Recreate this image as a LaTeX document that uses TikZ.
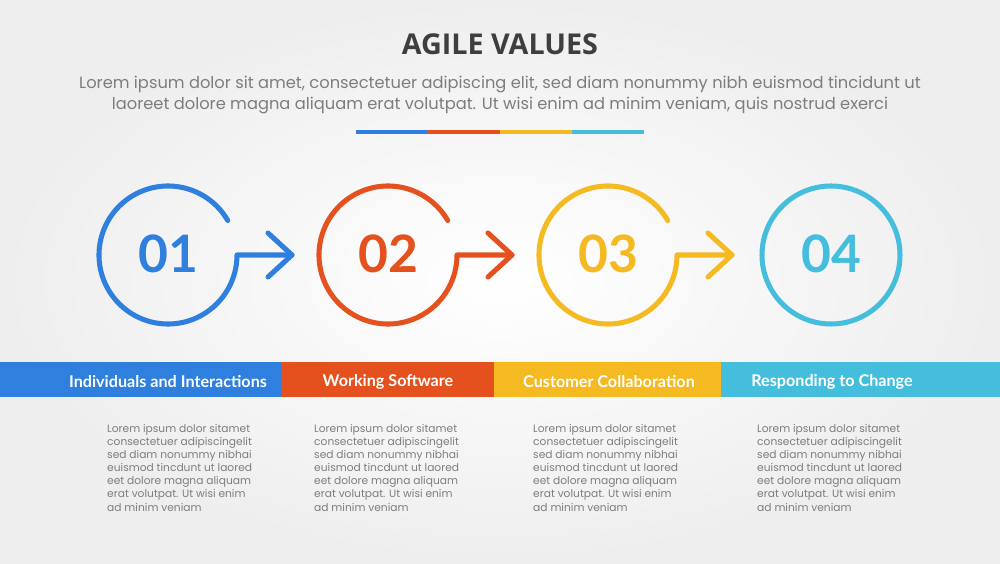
\documentclass[tikz,border=0pt]{standalone}
\usepackage{fontspec}
\setmainfont{Poppins}
\newfontfamily\titlefont{Open Sans}
\newfontfamily\bandfont{Lato}
\usetikzlibrary{positioning}
\definecolor{aBlue}{RGB}{47,128,222}
\definecolor{aOrange}{RGB}{229,81,30}
\definecolor{aYellow}{RGB}{245,186,33}
\definecolor{aCyan}{RGB}{69,190,221}
\definecolor{bgGray}{RGB}{238,238,238}
\definecolor{titleGray}{RGB}{62,62,62}
\definecolor{textGray}{RGB}{125,125,125}

\begin{document}
\begin{tikzpicture}[x=0.3mm,y=0.3mm,
  ring/.style={line width=4.3pt,line cap=round,line join=round},
  numtext/.style={font=\bandfont\bfseries\fontsize{44}{48}\selectfont},
  bandtext/.style={font=\bandfont\bfseries\fontsize{13.8}{16}\selectfont,text=white},
  bodytext/.style={font=\fontsize{9.1}{11.2}\selectfont,text=textGray,align=left,anchor=north west,inner sep=0pt}]
 \shade[inner color=white,outer color=bgGray] (0,0) rectangle (1000,563);
 \useasboundingbox (0,0) rectangle (1000,563);
 % title
 \node[font=\titlefont\bfseries\fontsize{24.5}{28}\selectfont,text=titleGray] (title) at (500,519) {AGILE VALUES};
 \node[font=\fontsize{13.9}{17.2}\selectfont,text=textGray,align=center] (intro) at (500,468)
  {Lorem ipsum dolor sit amet, consectetuer adipiscing elit, sed diam nonummy nibh euismod tincidunt ut\\
   laoreet dolore magna aliquam erat volutpat. Ut wisi enim ad minim veniam, quis nostrud exerci};
 \draw[line width=3pt,aBlue] (356,431)--++(72,0);
 \draw[line width=3pt,aOrange] (428,431)--++(72,0);
 \draw[line width=3pt,aYellow] (500,431)--++(72,0);
 \draw[line width=3pt,aCyan] (572,431)--++(72,0);
 %%%%%%%%%%%%%%%%%%%%%%%%%%%%%%%%%%%
 \draw[ring,aBlue] (168,308) ++(30:69) arc[start angle=30,end angle=360,radius=69] --++(55,0) coordinate (tip1);
 \draw[ring,aBlue] (tip1) ++(-24,22) -- (tip1) -- ++(-24,-22);
 \node[numtext,text=aBlue] (n1) at (168,309) {01};

 \draw[ring,aOrange] (388,308) ++(30:69) arc[start angle=30,end angle=360,radius=69] --++(55,0) coordinate (tip2);
 \draw[ring,aOrange] (tip2) ++(-24,22) -- (tip2) -- ++(-24,-22);
 \node[numtext,text=aOrange] (n2) at (388,309) {02};

 \draw[ring,aYellow] (608,308) ++(30:69) arc[start angle=30,end angle=360,radius=69] --++(55,0) coordinate (tip3);
 \draw[ring,aYellow] (tip3) ++(-24,22) -- (tip3) -- ++(-24,-22);
 \node[numtext,text=aYellow] (n3) at (608,309) {03};

 \draw[ring,aCyan] (831,308) circle (69);
 \node[numtext,text=aCyan] (n4) at (831,309) {04};
 %%%%%%%%%%%%%%%%%%%%%%%%%%%%%%%%%%%
 \fill[aBlue] (0,166) rectangle (281,201);
 \fill[aOrange] (281,166) rectangle (494,201);
 \fill[aYellow] (494,166) rectangle (721,201);
 \fill[aCyan] (721,166) rectangle (1000,201);
 \node[bandtext] (t1) at (168,181.5) {Individuals and Interactions};
 \node[bandtext] (t2) at (388,181.5) {Working Software};
 \node[bandtext] (t3) at (609,181.5) {Customer Collaboration};
 \node[bandtext] (t4) at (832,181.5) {Responding to Change};

 \node[bodytext] (b1) at (107,139) {Lorem ipsum dolor sitamet\\consectetuer adipiscingelit\\sed diam nonummy nibhai\\euismod tincdunt ut laored\\eet dolore magna aliquam\\erat volutpat. Ut wisi enim\\ad minim veniam};
 \node[bodytext] (b2) at (314,139) {Lorem ipsum dolor sitamet\\consectetuer adipiscingelit\\sed diam nonummy nibhai\\euismod tincdunt ut laored\\eet dolore magna aliquam\\erat volutpat. Ut wisi enim\\ad minim veniam};
 \node[bodytext] (b3) at (533,139) {Lorem ipsum dolor sitamet\\consectetuer adipiscingelit\\sed diam nonummy nibhai\\euismod tincdunt ut laored\\eet dolore magna aliquam\\erat volutpat. Ut wisi enim\\ad minim veniam};
 \node[bodytext] (b4) at (757,139) {Lorem ipsum dolor sitamet\\consectetuer adipiscingelit\\sed diam nonummy nibhai\\euismod tincdunt ut laored\\eet dolore magna aliquam\\erat volutpat. Ut wisi enim\\ad minim veniam};
\end{tikzpicture}
\end{document}
